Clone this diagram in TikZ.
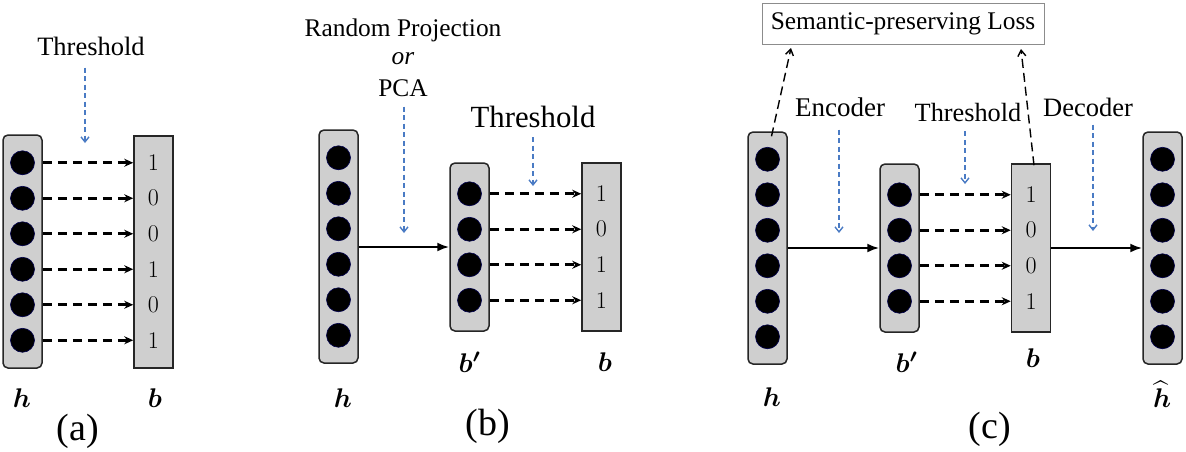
\documentclass[tikz,border=0pt]{standalone}
\usepackage{amsmath,amssymb,bm}
\usepackage{fontspec}
\newfontfamily\libser{Liberation Serif}
\newfontfamily\lmfont{Latin Modern Roman}
\usetikzlibrary{arrows.meta}
\definecolor{boxgray}{HTML}{CFCFCF}
\definecolor{hintblue}{HTML}{4A7BC4}
\definecolor{lossgray}{HTML}{8C8C8C}
\newcommand{\bigvec}[1]{\scalebox{2.7}{$#1$}}
\tikzset{
  colbox/.style={draw=black!85, fill=boxgray, line width=1.5pt, rounded corners=5pt, minimum width=39pt, inner sep=0pt},
  bitbox/.style={draw=black!85, fill=boxgray, line width=1.5pt, minimum width=39pt, inner sep=0pt},
  unit/.style={circle, fill=black, draw=black!70!blue, line width=0.6pt, minimum size=24pt, inner sep=0pt},
  bit/.style={inner sep=0pt, font=\fontsize{24}{26}\selectfont\lmfont},
  thr/.style={-{Stealth[length=9pt,width=8pt]}, black, line width=2.6pt, dash pattern=on 9pt off 6pt},
  solidarr/.style={-{Latex[length=12pt,width=9pt]}, black, line width=2.2pt},
  hint/.style={-{Straight Barb[length=5pt,width=8pt]}, hintblue, line width=1.4pt, dash pattern=on 5pt off 3.5pt},
  lossarr/.style={-{Straight Barb[length=6pt,width=8pt]}, black, line width=1.4pt, dash pattern=on 9pt off 5pt},
  lbl/.style={inner sep=0pt},
  vec/.style={inner sep=0pt},
  panelcap/.style={inner sep=0pt, font=\fontsize{38}{42}\selectfont\libser},
}
\begin{document}
\begin{tikzpicture}[x=1pt,y=-1pt]
\useasboundingbox (0,0) rectangle (1186,451);
\fill[white] (0,0) rectangle (1186,451);

% ---------------- panel (a) ----------------
\node[colbox, minimum height=233pt] (ha) at (22.5,251.5) {};
\node[bitbox, minimum height=232pt] (ba) at (153.5,252) {};
\foreach \i/\v in {1/1,2/0,3/0,4/1,5/0,6/1}{
  \node[unit] (ha\i) at (22.5,{251.5+(\i-3.5)*35.5}) {};
  \node[bit] (ba\i) at (153.5,{251.5+(\i-3.5)*35.5}) {\v};
  \draw[thr] (ha\i -| ha.east) -- (ha\i -| ba.west);
}
\node[lbl, font=\fontsize{26.5}{30}\selectfont\libser] (thra) at (91,46) {Threshold};
\coordinate (thraend) at (85,143);
\draw[hint] (thra.south -| thraend) ++(0,12) -- (thraend);
\node[vec] (hla) at (22,398) {\bigvec{\bm{h}}};
\node[vec] (bla) at (155,398) {\bigvec{\bm{b}}};
\node[panelcap] (capa) at (78,431) {(a)};

% ---------------- panel (b) ----------------
\node[colbox, minimum height=233pt] (hb) at (338.5,246.5) {};
\node[colbox, minimum height=168pt] (bpb) at (469.5,247) {};
\node[bitbox, minimum height=168pt] (bb) at (601.5,247) {};
\foreach \i in {1,...,6}{
  \node[unit] (hb\i) at (338.5,{246.5+(\i-3.5)*35.5}) {};
}
\foreach \i/\v in {1/1,2/0,3/1,4/1}{
  \node[unit] (bpb\i) at (469.5,{247+(\i-2.5)*35.5}) {};
  \node[bit] (bb\i) at (601.5,{247+(\i-2.5)*35.5}) {\v};
  \draw[thr] (bpb\i -| bpb.east) -- (bpb\i -| bb.west);
}
\draw[solidarr] (hb.east |- bpb.center) -- (bpb.west);
\node[lbl, font=\fontsize{25.4}{28}\selectfont\libser] (rp) at (403,30) {Random Projection};
\node[lbl, font=\fontsize{25.4}{28}\selectfont\libser\itshape] (orb) at (403,59) {or};
\node[lbl, font=\fontsize{25.4}{28}\selectfont\libser] (pca) at (403,88) {PCA};
\coordinate (pcaend) at (404,233);
\draw[hint] (pcaend |- pca.south) ++(0,10) -- (pcaend);
\node[lbl, font=\fontsize{30.8}{34}\selectfont\libser] (thrb) at (533,117) {Threshold};
\coordinate (thrbend) at (533,186);
\draw[hint] (thrbend |- thrb.south) ++(0,9) -- (thrbend);
\node[vec] (hlb) at (343,398) {\bigvec{\bm{h}}};
\node[vec] (bplb) at (470,362) {\bigvec{\bm{b'}}};
\node[vec] (blb) at (605,362) {\bigvec{\bm{b}}};
\node[panelcap] (capb) at (488,426) {(b)};

% ---------------- panel (c) ----------------
\node[colbox, minimum height=232pt] (hc) at (767.5,248) {};
\node[colbox, minimum height=168pt] (bpc) at (899.5,248) {};
\node[bitbox, minimum height=168pt] (bc) at (1031,248) {};
\node[colbox, minimum height=232pt] (hhc) at (1162.5,248) {};
\foreach \i in {1,...,6}{
  \node[unit] (hc\i) at (767.5,{248+(\i-3.5)*35.5}) {};
  \node[unit] (hhc\i) at (1162.5,{248+(\i-3.5)*35.5}) {};
}
\foreach \i/\v in {1/1,2/0,3/0,4/1}{
  \node[unit] (bpc\i) at (899.5,{248+(\i-2.5)*35.5}) {};
  \node[bit] (bc\i) at (1031,{248+(\i-2.5)*35.5}) {\v};
  \draw[thr] (bpc\i -| bpc.east) -- (bpc\i -| bc.west);
}
\draw[solidarr] (hc.east |- bpc.center) -- (bpc.west);
\draw[solidarr] (bc.east) -- (hhc.west |- bc.center);

\node[draw=lossgray, line width=1pt, minimum width=282pt, minimum height=41pt, inner sep=0pt,
      font=\fontsize{25.4}{28}\selectfont\libser] (loss) at (903,23.5) {Semantic-preserving Loss};
\coordinate (lossA) at (791,48);
\coordinate (lossB) at (1021,49);
\draw[lossarr] ([xshift=4pt,yshift=-5pt]hc.north) -- (lossA);
\draw[lossarr] ([xshift=3pt,yshift=-2pt]bc.north) -- (lossB);

\node[lbl, font=\fontsize{27}{30}\selectfont\libser] (enc) at (840,107) {Encoder};
\coordinate (encend) at (839,233);
\draw[hint] (encend |- enc.south) ++(0,13) -- (encend);
\node[lbl, font=\fontsize{26.3}{30}\selectfont\libser] (thrc) at (968,112) {Threshold};
\coordinate (thrcend) at (965,184);
\draw[hint] (thrcend |- thrc.south) ++(0,10) -- (thrcend);
\node[lbl, font=\fontsize{26.5}{30}\selectfont\libser] (dec) at (1088,107) {Decoder};
\coordinate (decend) at (1093,231);
\draw[hint] (decend |- dec.south) ++(0,8) -- (decend);

\node[vec] (hlc) at (772,397) {\bigvec{\bm{h}}};
\node[vec] (bplc) at (907,362) {\bigvec{\bm{b'}}};
\node[vec] (blc) at (1033,358) {\bigvec{\bm{b}}};
\node[vec] (hhlc) at (1162,394) {\bigvec{\widehat{\bm{h}}}};
\node[panelcap] (capc) at (990,429) {(c)};
\end{tikzpicture}
\end{document}
